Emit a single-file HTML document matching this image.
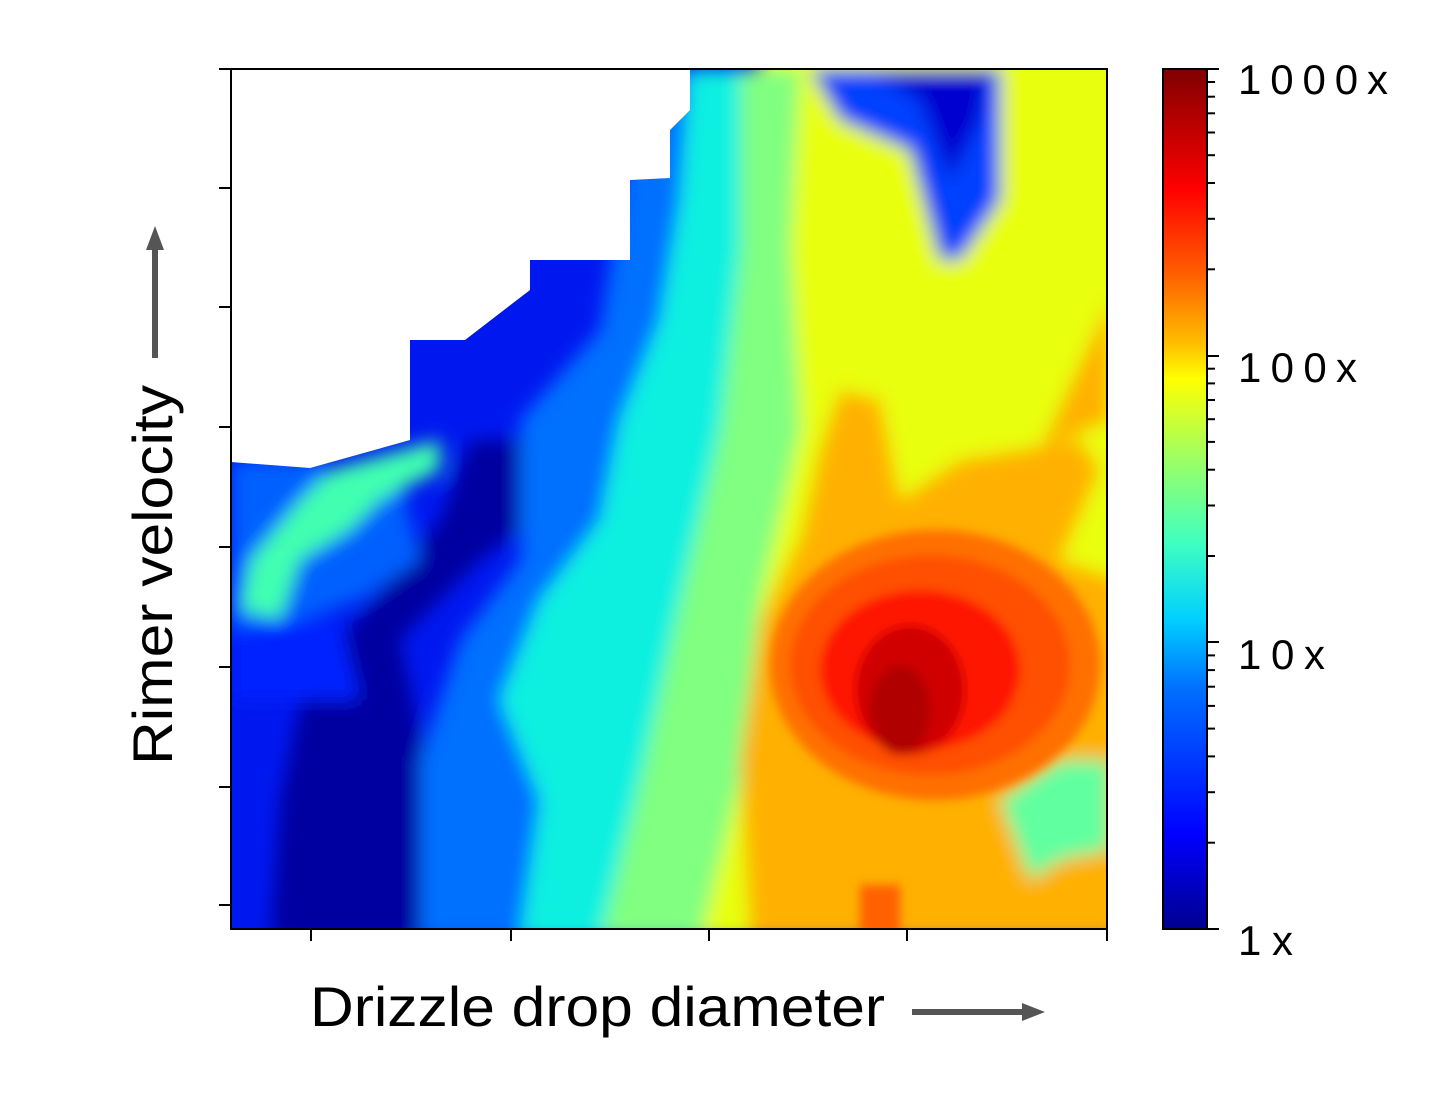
<!DOCTYPE html>
<html><head><meta charset="utf-8"><style>
html,body{margin:0;padding:0;background:#fff;}
svg{display:block}
text{font-family:"Liberation Sans",Arial,sans-serif;fill:#000}
</style></head><body>
<svg width="1440" height="1114" viewBox="0 0 1440 1114" xmlns="http://www.w3.org/2000/svg">
<defs>
<clipPath id="pc"><rect x="231" y="69" width="876" height="860"/></clipPath>
<filter id="b" x="-20%" y="-20%" width="140%" height="140%"><feGaussianBlur stdDeviation="9"/></filter>
<filter id="b2" x="-20%" y="-20%" width="140%" height="140%"><feGaussianBlur stdDeviation="5"/></filter>
<linearGradient id="jet" x1="0" y1="1" x2="0" y2="0">
<stop offset="0" stop-color="#00008f"/>
<stop offset="0.11" stop-color="#0000ff"/>
<stop offset="0.28" stop-color="#0070ff"/>
<stop offset="0.36" stop-color="#00d0ff"/>
<stop offset="0.45" stop-color="#40ffc0"/>
<stop offset="0.55" stop-color="#a0ff60"/>
<stop offset="0.64" stop-color="#ffff00"/>
<stop offset="0.68" stop-color="#ffc000"/>
<stop offset="0.76" stop-color="#ff6000"/>
<stop offset="0.86" stop-color="#ff0000"/>
<stop offset="1" stop-color="#800000"/>
</linearGradient>
</defs>
<g clip-path="url(#pc)">
<rect x="200" y="40" width="940" height="920" fill="#0018f0"/>
<g filter="url(#b)">
<polygon points="270,940 420,940 430,780 400,640 480,560 560,500 540,440 470,440 440,520 390,580 330,650 300,700 280,800" fill="#0000a0"/>
<polygon points="420,940 560,940 640,800 700,600 740,400 700,250 720,69 640,69 620,200 600,330 520,420 520,560 460,640 420,760" fill="#0070ff"/>
<polygon points="520,940 600,940 690,780 720,600 770,430 740,250 740,69 690,69 680,200 660,320 620,420 600,520 540,600 500,700 540,800" fill="#10f0e0"/>
<polygon points="660,940 1140,940 1140,40 760,40 760,250 770,430 730,600 720,780" fill="#e8ff10"/>
<polygon points="600,940 700,940 740,780 760,600 800,430 790,250 800,69 740,69 740,250 720,430 680,600 640,780" fill="#80ff80"/>
<polygon points="750,940 1120,940 1120,580 1060,560 1100,470 1080,440 1020,450 960,460 900,500 880,400 840,390 820,450 800,540 760,620 740,760" fill="#ffb000"/>
<polygon points="1040,450 1110,300 1110,420" fill="#ffb000"/>
<polygon points="810,69 1000,69 1000,200 960,260 940,260 910,150 840,120" fill="#0040ff"/>
<polygon points="870,69 990,69 980,120 950,180 920,100" fill="#0000d0"/>
<polygon points="1000,800 1060,760 1110,760 1110,850 1060,860 1030,880" fill="#60ffa0"/>
<polygon points="231,460 320,460 330,500 400,480 420,560 360,600 300,620 231,630" fill="#0060ff"/>
<polygon points="330,470 440,440 440,470 380,500 350,530 300,560 280,620 240,610 250,560 300,500" fill="#40ffb0"/>
<polygon points="231,630 300,620 340,620 360,700 300,700 231,700" fill="#0020ff"/>
</g>
<g filter="url(#b2)">
<ellipse cx="935" cy="665" rx="165" ry="135" fill="#ff7000"/>
<ellipse cx="930" cy="665" rx="140" ry="110" fill="#ff5000"/>
<ellipse cx="920" cy="670" rx="100" ry="80" fill="#ff1800"/>
<ellipse cx="910" cy="690" rx="55" ry="65" fill="#d00000"/>
<ellipse cx="900" cy="710" rx="30" ry="45" fill="#b00000"/>
<rect x="860" y="885" width="40" height="60" fill="#ff6000"/>
</g>
<polygon points="220,60 690,60 690,110 670,130 670,178 630,180 630,260 530,260 530,290 465,340 410,340 410,440 310,468 231,462 220,460" fill="#fff"/>
</g>
<rect x="231" y="69" width="876" height="860" fill="none" stroke="#000" stroke-width="2"/>
<g stroke="#000" stroke-width="2">
<line x1="219" y1="69" x2="231" y2="69"/><line x1="219" y1="188" x2="231" y2="188"/><line x1="219" y1="307" x2="231" y2="307"/><line x1="219" y1="427" x2="231" y2="427"/><line x1="219" y1="547" x2="231" y2="547"/><line x1="219" y1="667" x2="231" y2="667"/><line x1="219" y1="787" x2="231" y2="787"/><line x1="219" y1="905" x2="231" y2="905"/>
<line x1="311" y1="929" x2="311" y2="941"/><line x1="511" y1="929" x2="511" y2="941"/><line x1="709" y1="929" x2="709" y2="941"/><line x1="907" y1="929" x2="907" y2="941"/><line x1="1107" y1="929" x2="1107" y2="941"/>
</g>
<rect x="1163" y="69" width="44" height="860" fill="url(#jet)" stroke="#000" stroke-width="2"/>
<g stroke="#000" stroke-width="2">
<line x1="1207" y1="929" x2="1219" y2="929"/><line x1="1207" y1="642" x2="1219" y2="642"/><line x1="1207" y1="356" x2="1219" y2="356"/><line x1="1207" y1="69" x2="1219" y2="69"/>
<g id="mn">
<line x1="1207" y1="842.7" x2="1215" y2="842.7"/><line x1="1207" y1="792.2" x2="1215" y2="792.2"/><line x1="1207" y1="756.4" x2="1215" y2="756.4"/><line x1="1207" y1="728.6" x2="1215" y2="728.6"/><line x1="1207" y1="705.9" x2="1215" y2="705.9"/><line x1="1207" y1="686.7" x2="1215" y2="686.7"/><line x1="1207" y1="670.1" x2="1215" y2="670.1"/><line x1="1207" y1="655.4" x2="1215" y2="655.4"/>
</g>
<use href="#mn" y="-286.7"/><use href="#mn" y="-573.4"/>
</g>
<text x="1238" y="94" font-size="42" textLength="150" lengthAdjust="spacing">1000x</text>
<text x="1238" y="382" font-size="42" textLength="119" lengthAdjust="spacing">100x</text>
<text x="1238" y="669" font-size="42" textLength="87" lengthAdjust="spacing">10x</text>
<text x="1238" y="955" font-size="42" textLength="55" lengthAdjust="spacing">1x</text>
<text x="310" y="1026" font-size="56" textLength="575" lengthAdjust="spacingAndGlyphs">Drizzle drop diameter</text>
<line x1="912" y1="1012" x2="1025" y2="1012" stroke="#555" stroke-width="6"/>
<polygon points="1022,1003 1045,1012 1022,1021" fill="#555"/>
<text transform="translate(172,575) rotate(-90)" font-size="56" text-anchor="middle" textLength="380" lengthAdjust="spacingAndGlyphs">Rimer velocity</text>
<line x1="155" y1="358" x2="155" y2="248" stroke="#555" stroke-width="6"/>
<polygon points="146,250 155,226 164,250" fill="#555"/>
</svg>
</body></html>
